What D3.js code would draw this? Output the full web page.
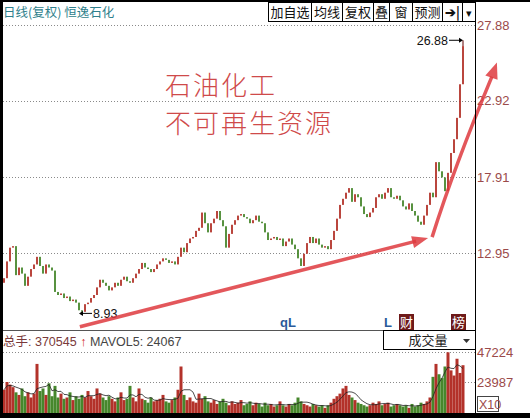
<!DOCTYPE html>
<html><head><meta charset="utf-8">
<script src="https://cdn.jsdelivr.net/npm/d3@7"></script>
<style>
html,body{margin:0;padding:0;background:#fff;}
svg{display:block;}
text{font-family:"Liberation Sans",Arial,sans-serif;}
.cjk{font-family:"Noto Sans CJK SC","Noto Sans CJK JP",sans-serif;}
</style></head>
<body>
<script>
// ---- data ----
const closes = [11.3,12.4,13.3,13.4,11.5,12.0,11.6,10.8,11.4,11.9,12.2,12.7,12.1,11.6,12.2,12.0,11.8,10.4,10.2,10.3,
10.0,10.1,9.8,9.9,9.7,9.2,9.1,9.6,9.7,10.0,10.2,10.7,11.2,11.0,10.8,10.5,10.7,11.0,10.8,11.2,
11.4,11.1,11.0,11.3,11.6,11.9,12.3,12.0,11.9,11.7,11.9,12.2,12.4,12.6,12.5,12.3,12.4,12.2,12.7,13.3,
13.0,13.6,13.9,14.0,14.4,14.6,15.6,14.9,14.3,14.9,15.2,15.7,15.1,14.7,13.3,14.2,14.8,15.1,15.4,15.5,
15.3,15.2,14.9,15.1,15.4,15.0,14.9,14.3,13.8,13.9,14.0,13.8,13.9,13.4,13.7,13.9,13.5,13.2,12.6,12.1,
12.9,13.6,14.0,13.6,13.9,13.5,13.3,13.4,13.2,13.8,14.4,15.2,16.1,16.5,16.9,17.2,16.3,16.8,16.6,16.0,
15.5,15.3,15.6,15.9,16.6,16.8,16.5,16.9,17.2,16.6,16.5,16.7,16.4,16.0,15.8,16.2,15.7,15.4,15.0,14.8,
15.4,16.1,16.9,16.6,18.9,18.3,17.9,17.0,18.2,19.5,20.4,21.8,24.0,26.5];
const volumes = [18000,24000,22000,20000,16000,14000,19000,13000,16000,12000,15000,38000,17000,19000,14000,23000,13000,21000,12000,15000,
11000,12000,16000,10000,13000,11000,14000,12000,17000,13000,11000,19000,15000,12000,10000,13000,11000,9000,12000,16000,
10000,11000,21000,12000,9000,19000,11000,10000,8000,12000,9000,10000,11000,14000,9000,8000,10000,12000,18000,36000,
14000,10000,12000,9000,8000,15000,11000,13000,9000,8000,10000,7000,9000,11000,8000,6000,9000,7000,8000,10000,
6000,7000,9000,6000,8000,7000,5000,8000,6000,7000,5000,6000,9000,6000,5000,7000,6000,8000,12000,9000,
7000,6000,5000,7000,6000,5000,6000,4000,6000,8000,11000,13000,15000,19000,21000,14000,12000,10000,8000,7000,
6000,5000,6000,8000,7000,9000,6000,7000,8000,5000,6000,7000,6000,5000,6000,4000,7000,5000,6000,8000,
7000,9000,12000,28000,38000,30000,27000,36000,47000,33000,29000,42000,31000,37000];
const priceTicks = [27.88, 22.92, 17.91, 12.95];
const volTicks = [47224, 23987];
const peakHigh = {i: 153, v: 26.88};
const lowMark = {i: 25, v: 8.93};
const arrowPts = [{i: 25.3, v: 8.12}, {i: 142.7, v: 13.99}, {i: 164.3, v: 25.42}];
const titleText = "日线(复权)  恒逸石化";
const toolButtons = ["加自选","均线","复权","叠","窗","预测","➔|","▾"];
const noteLines = ["石油化工","不可再生资源"];
const volInfo = {total: "370545", ma: "24067"};

// ---- chart ----
const W = 530, H = 418;
const svg = d3.select("body").append("svg").attr("width", W).attr("height", H);
svg.append("rect").attr("width", W).attr("height", H).attr("fill", "#fff");

const plotL = 3, plotR = 475;
const x = d3.scaleLinear().domain([0, closes.length - 1]).range([4, 463]);
const y = d3.scaleLinear().domain([12.95, 27.88]).range([253, 25]);
const yv = d3.scaleLinear().domain([0, 47224]).range([413, 352]);
const upC = "#b3322a", dnC = "#46872c";

// gridlines
const dot = "#8a8a8a";
svg.append("g").selectAll("line").data(priceTicks).join("line")
  .attr("x1", plotL).attr("x2", plotR).attr("y1", d => Math.round(y(d)) + 0.5).attr("y2", d => Math.round(y(d)) + 0.5)
  .attr("stroke", dot).attr("stroke-dasharray", "1,2");
svg.append("g").selectAll("line").data(volTicks).join("line")
  .attr("x1", plotL).attr("x2", plotR).attr("y1", d => Math.round(yv(d)) + 0.5).attr("y2", d => Math.round(yv(d)) + 0.5)
  .attr("stroke", dot).attr("stroke-dasharray", "1,2");

// price axis labels
const pAxis = svg.append("g").attr("transform", `translate(${plotR},0)`)
  .call(d3.axisRight(y).tickValues(priceTicks).tickSize(0).tickPadding(2).tickFormat(d3.format(".2f")));
pAxis.select(".domain").remove();
pAxis.selectAll("text").attr("fill", "#9b4a4a").style("font-size", "13px").style("font-family", "Liberation Sans, Arial");
const vAxis = svg.append("g").attr("transform", `translate(${plotR},0)`)
  .call(d3.axisRight(yv).tickValues(volTicks).tickSize(0).tickPadding(2).tickFormat(d3.format("d")));
vAxis.select(".domain").remove();
vAxis.selectAll("text").attr("fill", "#9b4a4a").style("font-size", "13px").style("font-family", "Liberation Sans, Arial");

// candles
const cdata = closes.map((c, i) => ({i, o: i ? closes[i - 1] : c - 0.3, c, vol: volumes[i]}));
svg.append("g").selectAll("rect").data(cdata).join("rect")
  .attr("x", d => x(d.i) - 0.9).attr("width", 1.8)
  .attr("y", d => y(Math.max(d.o, d.c)))
  .attr("height", d => Math.max(1, Math.abs(y(d.o) - y(d.c))))
  .attr("fill", d => d.c >= d.o ? upC : dnC);
// peak wick
svg.append("line").attr("x1", x(peakHigh.i)).attr("x2", x(peakHigh.i))
  .attr("y1", y(peakHigh.v)).attr("y2", y(closes[peakHigh.i])).attr("stroke", "#7a2a2a").attr("stroke-width", 1.2);

// volume bars
svg.append("g").selectAll("rect").data(cdata).join("rect")
  .attr("x", d => x(d.i) - 1.5).attr("width", 3)
  .attr("y", d => yv(d.vol)).attr("height", d => yv(0) - yv(d.vol))
  .attr("fill", d => d.c >= d.o ? upC : dnC);
// MAVOL5
const ma5 = cdata.map((d, i) => ({i, v: d3.mean(volumes.slice(Math.max(0, i - 4), i + 1))}));
svg.append("path").datum(ma5).attr("fill", "none").attr("stroke", "#222").attr("stroke-width", 0.8)
  .attr("d", d3.line().x(d => x(d.i)).y(d => yv(d.v)));

// markers
const pk = svg.append("g");
pk.append("line").attr("x1", x(peakHigh.i) - 14).attr("x2", x(peakHigh.i) - 2)
  .attr("y1", y(peakHigh.v)).attr("y2", y(peakHigh.v)).attr("stroke", "#000");
pk.append("path").attr("d", `M${x(peakHigh.i)},${y(peakHigh.v)} l-4,-2.5 v5 z`).attr("fill", "#000");
pk.append("text").attr("x", x(peakHigh.i) - 15).attr("y", y(peakHigh.v) + 4.5).attr("text-anchor", "end")
  .style("font-size", "12.5px").attr("fill", "#111").text(peakHigh.v.toFixed(2));
const lw = svg.append("g");
const lx = x(lowMark.i), ly = y(lowMark.v) - 1;
lw.append("line").attr("x1", lx + 2).attr("x2", lx + 13).attr("y1", ly).attr("y2", ly).attr("stroke", "#000");
lw.append("path").attr("d", `M${lx},${ly} l4,-2.5 v5 z`).attr("fill", "#000");
lw.append("text").attr("x", lx + 14).attr("y", ly + 5).style("font-size", "12.5px").attr("fill", "#111").text(lowMark.v.toFixed(2));

// red arrows
const ap = arrowPts.map(d => [x(d.i), y(d.v)]);
const arrowC = "rgba(222,58,62,0.85)";
function arrowHead(p0, p1, len, wid) {
  const dx = p1[0] - p0[0], dy = p1[1] - p0[1], L = Math.hypot(dx, dy);
  const ux = dx / L, uy = dy / L;
  const bx = p1[0] - ux * len, by = p1[1] - uy * len;
  return `M${p1[0]},${p1[1]} L${bx - uy * wid},${by + ux * wid} L${bx + uy * wid},${by - ux * wid} Z`;
}
const a1End = [ap[1][0] - 4, ap[1][1] + 1];
svg.append("line").attr("x1", ap[0][0]).attr("y1", ap[0][1]).attr("x2", a1End[0] - 12).attr("y2", a1End[1] + 3)
  .attr("stroke", arrowC).attr("stroke-width", 3.5);
svg.append("path").attr("d", arrowHead(ap[0], a1End, 16, 6)).attr("fill", arrowC);
const ctrl = [ap[1][0] + 22, ap[1][1] - 70];
svg.append("path").attr("d", `M${ap[1][0]},${ap[1][1]} Q${ctrl[0]},${ctrl[1]} ${ap[2][0] - 5},${ap[2][1] + 14}`)
  .attr("fill", "none").attr("stroke", arrowC).attr("stroke-width", 3.5);
svg.append("path").attr("d", arrowHead([ap[2][0] - 8, ap[2][1] + 22], ap[2], 16, 6.5)).attr("fill", arrowC);

// note text
svg.append("g").selectAll("text").data(noteLines).join("text").attr("class", "cjk")
  .attr("x", 165).attr("y", (d, k) => 95 + k * 38)
  .style("font-size", "26px").style("letter-spacing", "2px").style("font-weight", "300").attr("fill", "#cf4a4a").text(d => d);

// frame lines
svg.append("line").attr("x1", plotR + 0.5).attr("x2", plotR + 0.5).attr("y1", 22).attr("y2", 413).attr("stroke", "#000");
svg.append("line").attr("x1", 0).attr("x2", plotR).attr("y1", 330.5).attr("y2", 330.5).attr("stroke", "#555");
svg.append("line").attr("x1", 0).attr("x2", plotR).attr("y1", 25.5).attr("y2", 25.5).attr("stroke", "#8a8a8a").attr("stroke-dasharray", "1,2");

// title
svg.append("text").attr("class", "cjk").attr("x", 3).attr("y", 17).style("font-size", "12.5px").attr("fill", "#2f7f8c").text(titleText);

// toolbar
const btnX = [268, 311, 342, 373, 389, 412, 442, 462, 475];
const tb = svg.append("g");
tb.append("rect").attr("x", 268.5).attr("y", 2.5).attr("width", 475 - 268).attr("height", 19).attr("fill", "#fff").attr("stroke", "#000");
toolButtons.forEach((t, k) => {
  if (k > 0) tb.append("line").attr("x1", btnX[k] + 0.5).attr("x2", btnX[k] + 0.5).attr("y1", 2).attr("y2", 22).attr("stroke", "#000");
  tb.append("text").attr("class", "cjk").attr("x", (btnX[k] + btnX[k + 1]) / 2 + 0.5).attr("y", 17)
    .attr("text-anchor", "middle").style("font-size", t === "▾" ? "11px" : "13px")
    .style("font-weight", t === "➔|" ? "bold" : "normal").attr("fill", "#111").text(t);
});

// bottom markers
svg.append("text").attr("x", 280).attr("y", 327).style("font-size", "13px").style("font-weight", "bold").attr("fill", "#2a5a9a").text("qL");
svg.append("text").attr("x", 384).attr("y", 327).style("font-size", "13px").style("font-weight", "bold").attr("fill", "#2a5a9a").text("L");
[["财", 399], ["榜", 451]].forEach(([t, bx]) => {
  svg.append("rect").attr("x", bx).attr("y", 314).attr("width", 15).attr("height", 16).attr("fill", "#6e1a1a");
  svg.append("text").attr("class", "cjk").attr("x", bx + 7.5).attr("y", 327).attr("text-anchor", "middle")
    .style("font-size", "13px").attr("fill", "#fff").text(t);
});

// volume header
const vh = svg.append("text").attr("x", 3).attr("y", 346).style("font-size", "12.5px");
vh.append("tspan").attr("class", "cjk").attr("fill", "#7a3a3a").text("总手");
vh.append("tspan").attr("fill", "#7a3a3a").text(": " + volInfo.total + " ");
vh.append("tspan").attr("fill", "#d02020").style("font-weight", "bold").text("↑");
vh.append("tspan").attr("fill", "#444").text("  MAVOL5: " + volInfo.ma);
svg.append("rect").attr("x", 383.5).attr("y", 330.5).attr("width", 92).attr("height", 19).attr("fill", "#fff").attr("stroke", "#000");
svg.append("text").attr("class", "cjk").attr("x", 428).attr("y", 345).attr("text-anchor", "middle").style("font-size", "13px").attr("fill", "#222").text("成交量");
svg.append("path").attr("d", "M463,339 h7 l-3.5,4 z").attr("fill", "#333");
svg.append("rect").attr("x", 477.5).attr("y", 396.5).attr("width", 21).attr("height", 15).attr("fill", "none").attr("stroke", "#444");
svg.append("text").attr("x", 479).attr("y", 409).style("font-size", "12.5px").attr("fill", "#9b4a4a").text("X10");

// black outer border
svg.append("rect").attr("x", 0).attr("y", 0).attr("width", 3).attr("height", H).attr("fill", "#000");
svg.append("rect").attr("x", 0).attr("y", 413).attr("width", W).attr("height", 5).attr("fill", "#000");
svg.append("rect").attr("x", 0).attr("y", 0).attr("width", W).attr("height", 2).attr("fill", "#000");
</script>
</body></html>
